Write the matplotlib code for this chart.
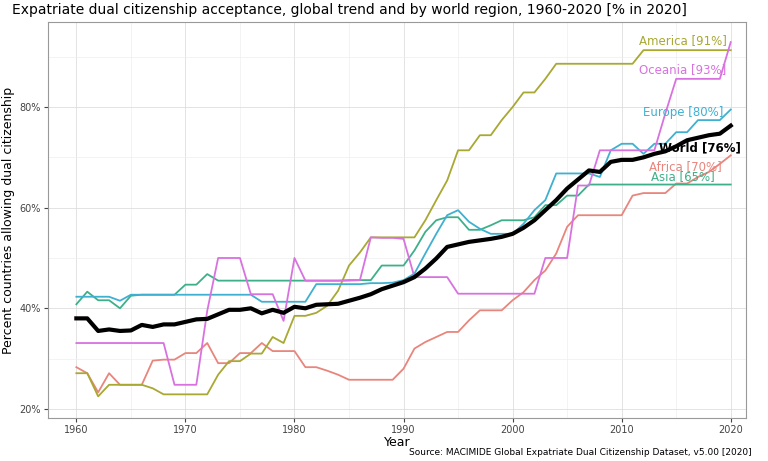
import numpy as np
import matplotlib
matplotlib.use("Agg")
import matplotlib.pyplot as plt

years = list(range(1960, 2021))
world = [38,38,35.5,35.8,35.5,35.6,36.7,36.3,36.8,36.8,37.3,37.8,37.9,38.8,39.7,39.7,40,39,39.7,39.1,40.3,40,40.7,40.8,40.9,41.5,42.1,42.8,43.8,44.5,45.2,
         46.2,47.9,49.9,52.2,52.7,53.2,53.5,53.8,54.2,54.8,56,57.5,59.5,61.5,63.8,65.6,67.4,67.1,69.1,69.5,69.5,70,70.7,71.2,72.2,73.4,73.9,74.4,74.7,76.3]
america = [27.1,27.1,22.5,24.8,24.8,24.8,24.8,24.1,22.9,22.9,22.9,22.9,22.9,26.8,29.5,29.5,31,31,34.3,33.1,38.5,38.5,39.1,40.5,43.5,48.5,51.1,54.1,54.1,54.1,54.1,
           54.1,57.5,61.5,65.4,71.4,71.4,74.4,74.4,77.4,80,82.9,82.9,85.6,88.6,88.6,88.6,88.6,88.6,88.6,88.6,88.6,91.3,91.3,91.3,91.3,91.3,91.3,91.3,91.3,91.3]
oceania = [33.1]*9 + [24.8,24.8,24.8,39.5,50,50,50,42.8,42.8,42.8,37.5,50,45.5,45.5,45.5,45.5,45.5,45.6,54.1,54,54,53.8,
           46.2,46.2,46.2,46.2,42.9,42.9,42.9,42.9,42.9,42.9,42.9,42.9,50,50,50,64.4,64.4,71.4,71.4,71.4,71.4,71.4,71.4,78.7,85.6,85.6,85.6,85.6,85.6,92.9]
europe = [42.3,42.3,42.3,42.3,41.5,42.7,42.7,42.7,42.7,42.7,42.7,42.7,42.7,42.7,42.7,42.7,42.7,41.3,41.3,41.3,41.3,41.3,44.8,44.8,44.8,44.8,44.8,45,45,45.1,45.6,
          46.9,50.9,54.8,58.5,59.5,57.2,55.8,54.8,54.8,54.8,56.8,59.5,61.5,66.8,66.8,66.8,66.8,66.1,71.4,72.7,72.7,70.7,72.7,72.7,75,75,77.4,77.4,77.4,79.5]
asia = [40.8,43.3,41.6,41.6,40,42.5,42.7,42.7,42.7,42.7,44.7,44.7,46.8,45.5,45.5,45.5,45.5,45.5,45.5,45.5,45.5,45.5,45.5,45.5,45.5,45.6,45.6,45.6,48.5,48.5,48.5,
        51.5,55.2,57.5,58.1,58.1,55.6,55.6,56.5,57.5,57.5,57.5,58.1,60.5,60.5,62.4,62.4,64.6] + [64.6]*13
africa = [28.3,27.1,23.3,27.1,24.8,24.8,24.8,29.6,29.8,29.8,31.1,31.1,33.1,29.1,29.1,31.1,31.1,33.1,31.5,31.5,31.5,28.3,28.3,27.6,26.8,25.8,25.8,25.8,25.8,25.8,28,
          32,33.3,34.3,35.3,35.3,37.6,39.6,39.6,39.6,41.6,43.2,45.6,47.5,50.9,56.2,58.5,58.5,58.5,58.5,58.5,62.4,62.9,62.9,62.9,64.8,64.8,66.1,67.1,68.7,70.4]

regions = [("Africa", africa, "#E8857C"), ("America", america, "#A8A832"),
           ("Asia", asia, "#3DB08A"), ("Europe", europe, "#3FB0D0"),
           ("Oceania", oceania, "#D872E0")]
labels = {"America": ("America [91%]", 2015.6, 93.2), "Oceania": ("Oceania [93%]", 2015.6, 87.4),
          "Europe": ("Europe [80%]", 2015.6, 79.0), "Africa": ("Africa [70%]", 2015.8, 68.2),
          "Asia": ("Asia [65%]", 2015.6, 66.2)}

fig = plt.figure(figsize=(7.68, 4.61), dpi=100)
ax = fig.add_axes([48/768, 1-418/461, (746-48)/768, (418-22)/461])
for name, vals, col in regions:
    ax.plot(years, vals, color=col, lw=1.3, zorder=3)
    t, x, y = labels[name]
    ax.text(x, y, t, color=col, fontsize=8.5, ha="center", va="center", zorder=5)
ax.plot(years, world, color="black", lw=3, zorder=4)
ax.text(2017.2, 71.8, "World [76%]", color="black", fontsize=8.5, fontweight="bold", ha="center", va="center", zorder=5)

ax.set_xlim(1957.4, 2021.4)
ax.set_ylim(18.2, 96.9)
ax.set_xticks(range(1960, 2021, 10))
ax.set_xticks(range(1965, 2021, 10), minor=True)
ax.set_yticks([20, 40, 60, 80])
ax.set_yticks([30, 50, 70, 90], minor=True)
ax.set_yticklabels(["20%", "40%", "60%", "80%"])
ax.grid(True, which="major", color="#dedede", lw=0.6)
ax.grid(True, which="minor", color="#eeeeee", lw=0.5)
ax.tick_params(which="minor", length=0)
ax.tick_params(which="major", labelsize=7, colors="#444444", length=3, pad=2)
for s in ax.spines.values():
    s.set_color("#999999")
ax.set_xlabel("Year", fontsize=9, labelpad=1)
ax.set_ylabel("Percent countries allowing dual citizenship", fontsize=9, labelpad=3)
fig.text(12/768, 1-10/461, "Expatriate dual citizenship acceptance, global trend and by world region, 1960-2020 [% in 2020]",
         fontsize=10, va="center", ha="left")
fig.text(752/768, 1-452/461, "Source: MACIMIDE Global Expatriate Dual Citizenship Dataset, v5.00 [2020]",
         fontsize=6.5, ha="right", va="center")
fig.savefig("out.png", dpi=100)
